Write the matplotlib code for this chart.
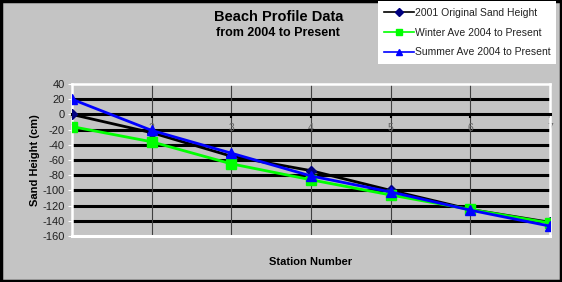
import matplotlib
matplotlib.use("Agg")
import matplotlib.pyplot as plt
from matplotlib.patches import Rectangle

plt.rcParams["font.family"] = ["Liberation Sans", "DejaVu Sans"]
plt.rcParams["axes.unicode_minus"] = False

stations = [1, 2, 3, 4, 5, 6, 7]
original_2001 = [0, -24, -55, -74, -100, -125, -142]
winter_ave = [-16, -36, -65, -86, -106, -125, -143]
summer_ave = [20, -21, -51, -81, -102, -126, -147]
y_ticks = list(range(-160, 41, 20))

bg = "#c4c4c4"
fig = plt.figure(figsize=(5.62, 2.82), dpi=100, facecolor=bg)
ax = fig.add_axes([0.128, 0.163, 0.851, 0.539], facecolor=bg)

ax.set_xlim(1, 7)
ax.set_ylim(-160, 40)

# grid lines
ax.hlines([v for v in y_ticks if -160 < v < 40 and v != 0], 1, 7,
          color="black", lw=2.2, zorder=1)
ax.vlines(stations[1:-1], -160, 40, color="#404040", lw=0.8, zorder=1)

# category axis crosses at 0
ax.spines["bottom"].set_position(("data", 0))
ax.spines["bottom"].set_color("black")
ax.spines["bottom"].set_linewidth(2.2)
for side in ["left", "top", "right"]:
    ax.spines[side].set_color("white")
    ax.spines[side].set_linewidth(1.8)
ax.axhline(-160, color="white", lw=2.2, clip_on=False, zorder=2.5)

ax.set_xticks(stations)
ax.set_xticklabels([str(s) for s in stations])
ax.tick_params(axis="x", direction="out", length=3, width=1.5, color="black",
               labelsize=7.5, labelcolor="#666666", pad=3)
ax.set_yticks(y_ticks)
ax.tick_params(axis="y", length=3, color="white", labelsize=8, labelcolor="#202020", pad=2)

ax.plot(stations, original_2001, color="black", lw=2, marker="D", ms=5,
        mfc="#000080", mec="#000080", label="2001 Original Sand Height", zorder=3)
ax.plot(stations, winter_ave, color="#00ff00", lw=2, marker="s", ms=7,
        mfc="#00ff00", mec="#00ff00", label="Winter Ave 2004 to Present", zorder=3)
ax.plot(stations, summer_ave, color="#0000ff", lw=2, marker="^", ms=7,
        mfc="#0000ff", mec="#0000ff", label="Summer Ave 2004 to Present", zorder=3)

ax.set_ylabel("Sand Height (cm)", fontsize=8, fontweight="bold", labelpad=2)
fig.text(0.552, 0.072, "Station Number", ha="center", va="center",
         fontsize=8, fontweight="bold")
fig.text(0.495, 0.94, "Beach Profile Data", ha="center", va="center",
         fontsize=10.5, fontweight="bold")
fig.text(0.495, 0.882, "from 2004 to Present", ha="center", va="center",
         fontsize=9, fontweight="bold")

leg = fig.legend(loc="upper left", bbox_to_anchor=(0.673, 0.775, 0.316, 0.22),
                 mode="expand", fontsize=7.5, frameon=True, fancybox=False,
                 borderaxespad=0, handlelength=2.8, labelspacing=0.95,
                 handletextpad=0.1, borderpad=0.6, labelcolor="#222222")
leg.get_frame().set_facecolor("white")
leg.get_frame().set_edgecolor("none")
leg.get_frame().set_alpha(1)
for h in leg.legend_handles:
    h.set_linewidth(1.2)
    h.set_markersize(4.5)

fig.patches.append(Rectangle((0.002, 0.004), 0.996, 0.992, transform=fig.transFigure,
                             fill=False, edgecolor="black", lw=2.5))

fig.savefig("out.png", dpi=100, facecolor=bg)
